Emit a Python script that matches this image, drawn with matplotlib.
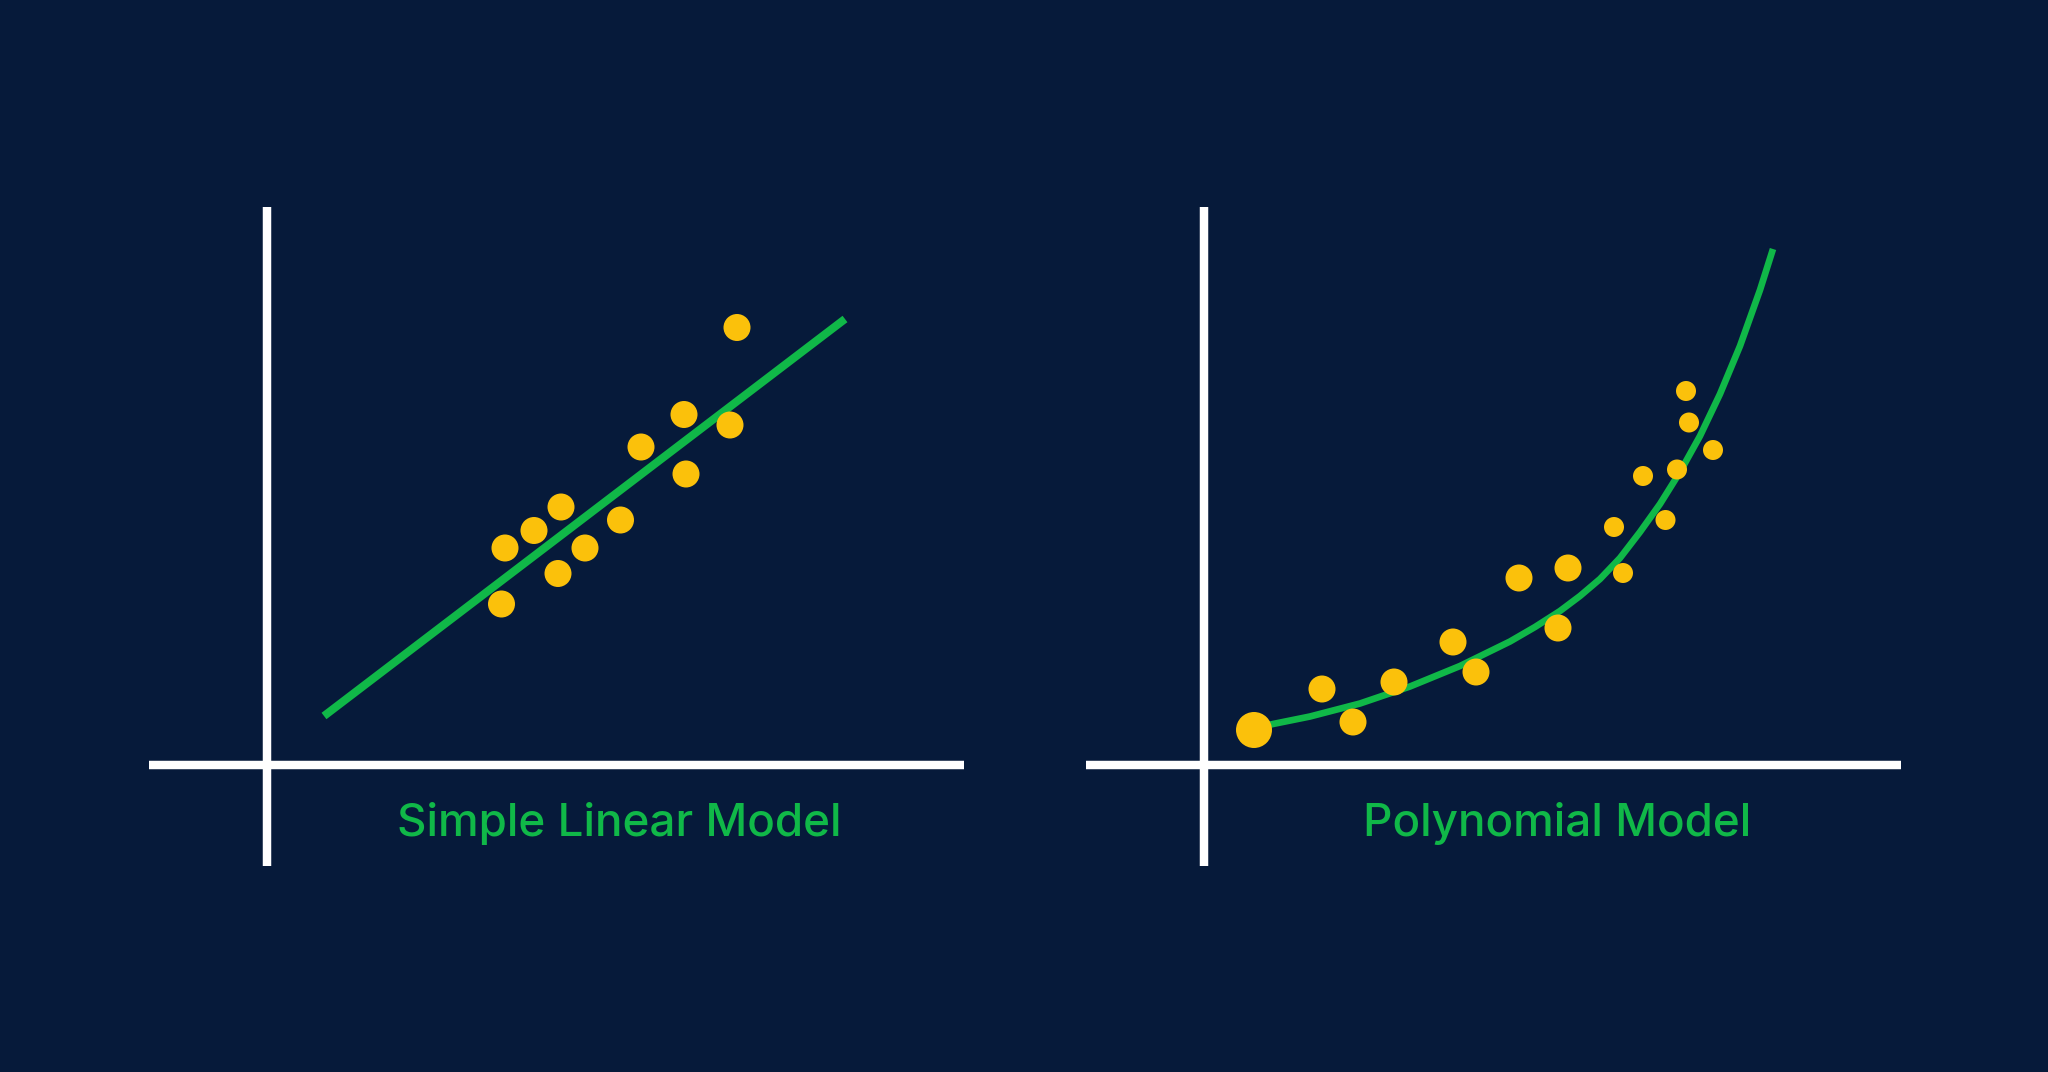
import matplotlib
matplotlib.use("Agg")
import matplotlib.pyplot as plt
import numpy as np

# --- data (1 unit = 50 px, origin at the white cross) ---
linear_x = [9.40, 8.34, 9.26, 7.48, 8.38, 5.88, 7.07, 5.34, 4.76, 6.36, 5.82, 4.69]
linear_y = [8.75, 7.01, 6.80, 6.36, 5.82, 5.16, 4.90, 4.69, 4.34, 4.34, 3.83, 3.22]
linear_fit_x = [1.14, 11.56]
linear_fit_y = [0.98, 8.92]

poly_x = [1.00, 2.36, 2.98, 3.80, 4.98, 5.44, 6.30, 7.08, 7.28,
          8.38, 8.20, 9.23, 8.78, 9.46, 10.18, 9.70, 9.64]
poly_y = [0.70, 1.52, 0.86, 1.66, 2.46, 1.86, 3.74, 2.74, 3.94,
          3.84, 4.76, 4.90, 5.78, 5.91, 6.30, 6.85, 7.48]
poly_fit_x = [1.12, 1.38, 2.12, 3.12, 4.12, 5.12, 6.12, 6.62, 7.12, 7.52,
              7.92, 8.32, 8.72, 9.12, 9.52, 9.92, 10.32, 10.72, 11.12, 11.38]
poly_fit_y = [0.76, 0.82, 0.97, 1.23, 1.57, 1.98, 2.47, 2.76, 3.08, 3.38,
              3.72, 4.14, 4.66, 5.22, 5.86, 6.58, 7.42, 8.38, 9.50, 10.32]

titles = ["Simple Linear Model", "Polynomial Model"]

# --- style ---
BG = "#061a3a"
GREEN = "#10b848"
YELLOW = "#fbc10b"
WHITE = "#ffffff"
W, H = 2048, 1072
UNIT = 50  # px per data unit
XLIM = (-3.0, 14.5)
YLIM = (-3.0, 11.5)

# marker diameters in px for the polynomial panel (first point is the big one)
poly_diam = [36] + [27] * 8 + [20] * 8
lin_diam = [27] * len(linear_x)


def px_to_s(d):
    # scatter size is in points^2, 1 px = 0.72 pt at dpi 100
    return (np.asarray(d) * 0.72) ** 2


def make_axes(fig, ox, oy):
    left = (ox + UNIT * XLIM[0]) / W
    bottom = (H - oy + UNIT * YLIM[0]) / H
    width = UNIT * (XLIM[1] - XLIM[0]) / W
    height = UNIT * (YLIM[1] - YLIM[0]) / H
    ax = fig.add_axes([left, bottom, width, height])
    ax.set_xlim(*XLIM)
    ax.set_ylim(*YLIM)
    ax.set_facecolor("none")
    ax.axis("off")
    # white cross axes
    ax.plot([-2.37, 13.94], [0, 0], color=WHITE, lw=6.1, solid_capstyle="butt", zorder=1)
    ax.plot([0, 0], [-2.02, 11.16], color=WHITE, lw=6.1, solid_capstyle="butt", zorder=1)
    return ax


plt.rcParams["font.family"] = ["Inter", "DejaVu Sans"]

fig = plt.figure(figsize=(W / 100, H / 100), dpi=100, facecolor=BG)

ax1 = make_axes(fig, 267, 765)
ax1.plot(linear_fit_x, linear_fit_y, color=GREEN, lw=5.8, solid_capstyle="butt", zorder=2)
ax1.scatter(linear_x, linear_y, s=px_to_s(lin_diam), color=YELLOW, edgecolors="none", zorder=3)
ax1.text(7.04, -1.42, titles[0], color=GREEN, fontsize=33, fontweight="medium",
         ha="center", va="baseline")

ax2 = make_axes(fig, 1204, 765)
ax2.plot(poly_fit_x, poly_fit_y, color=GREEN, lw=4.8, solid_capstyle="butt",
         solid_joinstyle="round", zorder=2)
ax2.scatter(poly_x, poly_y, s=px_to_s(poly_diam), color=YELLOW, edgecolors="none", zorder=3)
ax2.text(7.06, -1.42, titles[1], color=GREEN, fontsize=33, fontweight="medium",
         ha="center", va="baseline")

fig.savefig("out.png", dpi=100, facecolor=BG)
plt.close(fig)
